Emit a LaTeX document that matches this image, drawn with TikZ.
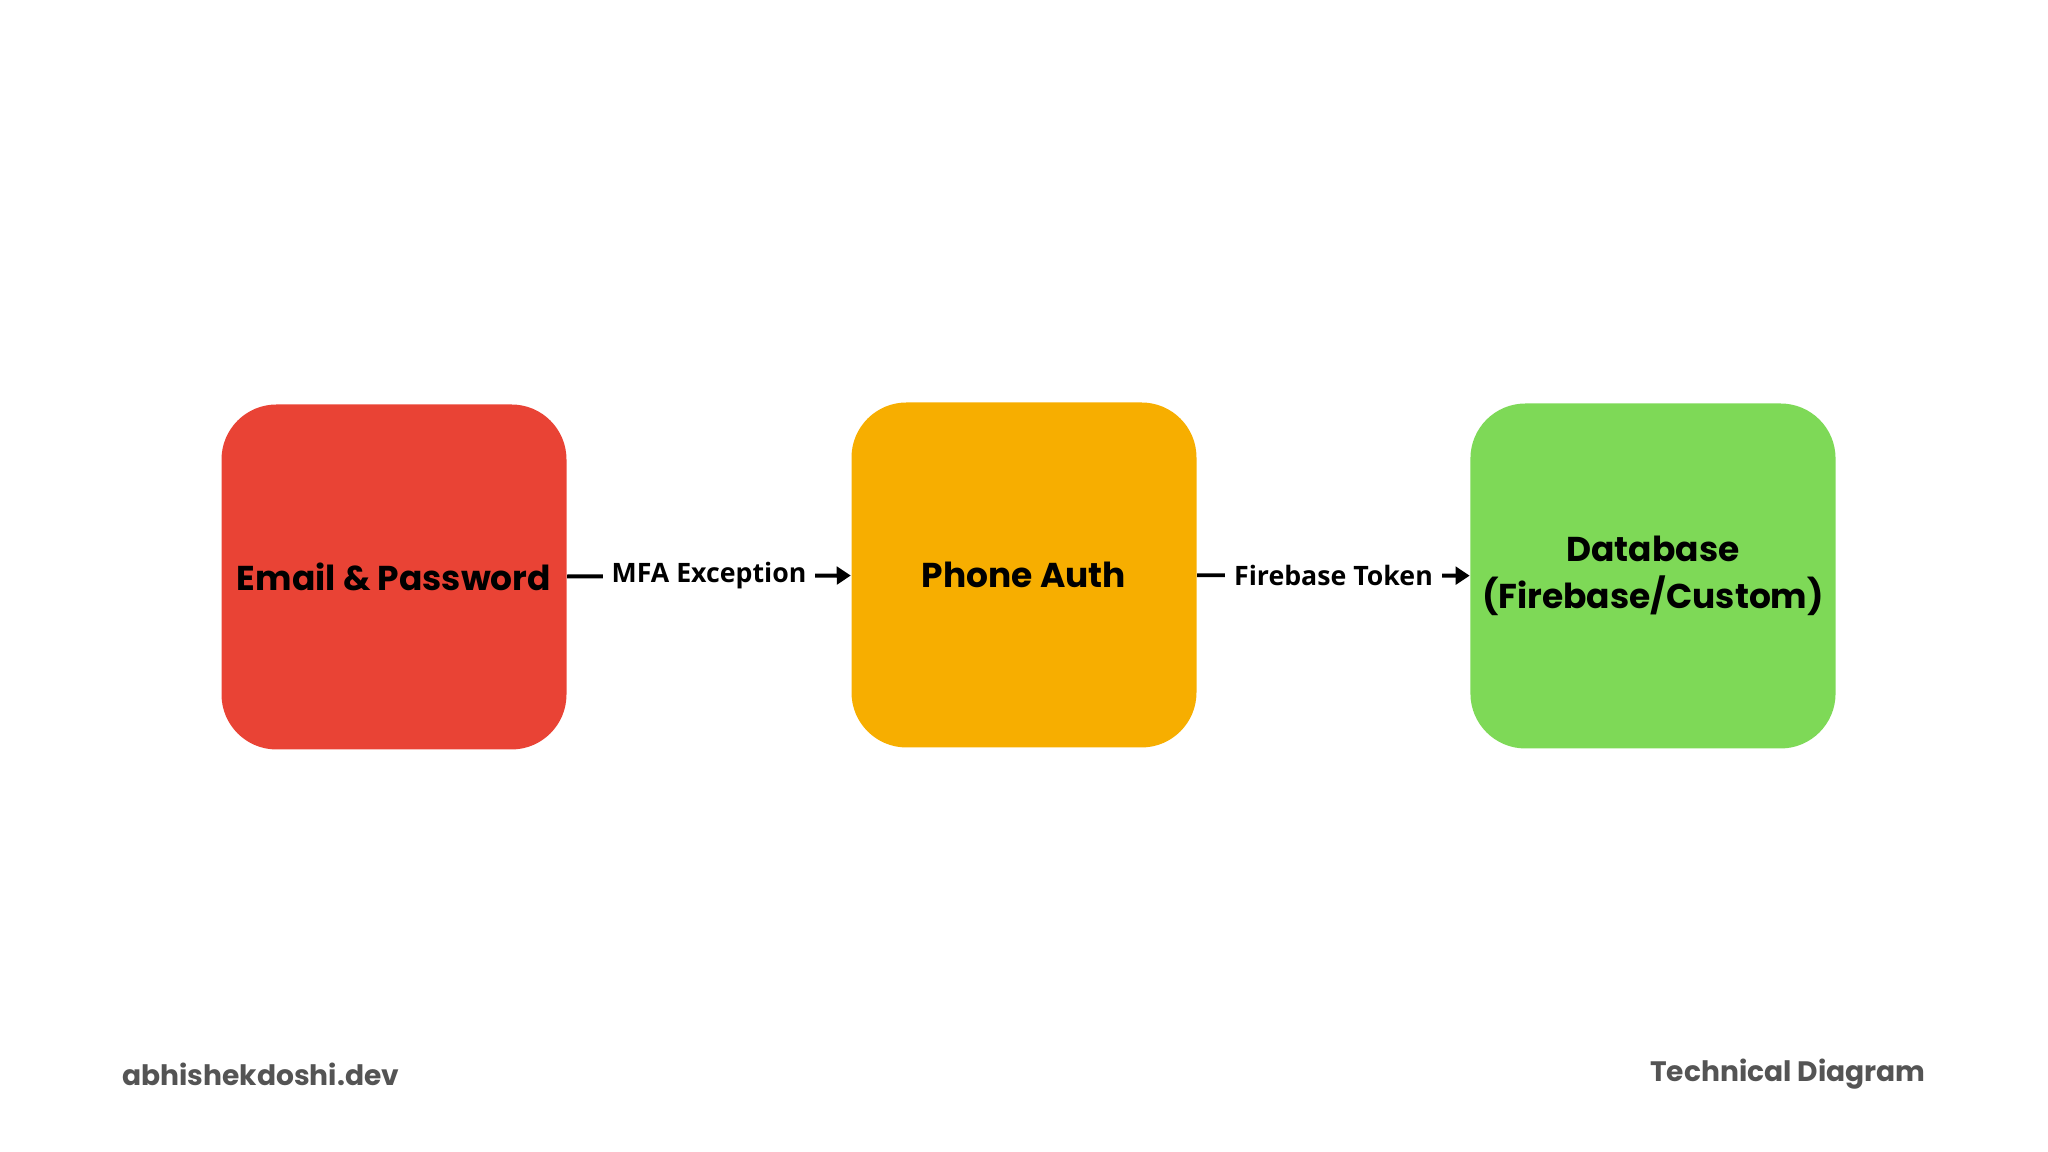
\documentclass[tikz,border=0pt]{standalone}
\usepackage{fontspec}
\setmainfont{Poppins}
\newfontfamily\lab{Open Sans}
\usetikzlibrary{arrows.meta}
\definecolor{cred}{HTML}{E94335}
\definecolor{corange}{HTML}{F7AE00}
\definecolor{cgreen}{HTML}{7ED957}
\definecolor{cgrey}{HTML}{545454}
\begin{document}
\begin{tikzpicture}
\useasboundingbox (0,0) rectangle (20.48,11.52);
\tikzset{box/.style={minimum width=3.45cm,minimum height=3.45cm,rounded corners=0.55cm,align=center,font=\bfseries\fontsize{9.8}{13.5}\selectfont},
conn/.style={line width=1.1pt,-{Triangle[length=4pt,width=5pt]}},
lbl/.style={fill=white,inner sep=2.5pt,font=\lab\bfseries\fontsize{7.6}{9}\selectfont},
foot/.style={text=cgrey,font=\bfseries\fontsize{8}{10}\selectfont}}
\node[box,fill=cred] (a) at (3.94,5.75) {Email \& Password};
\node[box,fill=corange] (b) at (10.24,5.77) {Phone Auth};
\node[box,fill=cgreen] (c) at (16.53,5.76) {Database\\(Firebase/Custom)};
\draw[conn] (a) -- node[lbl] {MFA Exception} (b);
\draw[conn] (b) -- node[lbl] {Firebase Token} (c);
\node[foot,anchor=west] (f1) at (1.1,0.78) {abhishekdoshi.dev};
\node[foot,anchor=east] (f2) at (19.38,0.78) {Technical Diagram};
\end{tikzpicture}
\end{document}
